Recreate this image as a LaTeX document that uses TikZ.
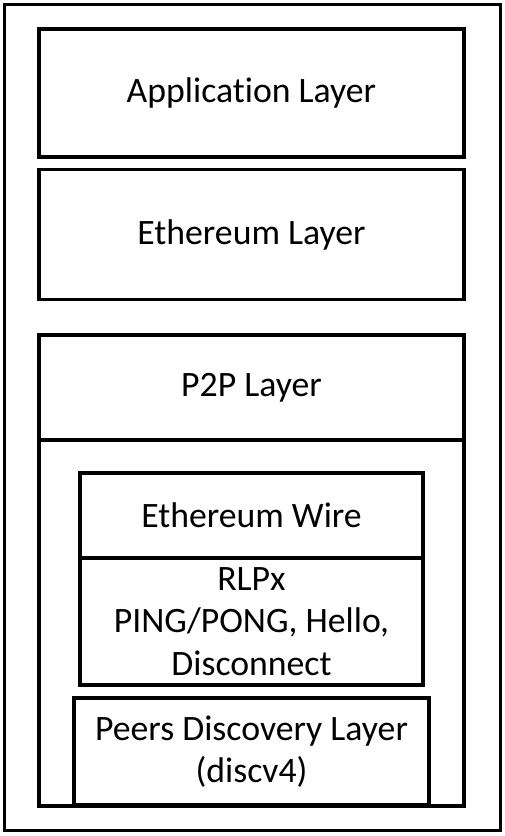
\documentclass[tikz,border=0pt]{standalone}
\usepackage{fontspec}
\setmainfont{Carlito}[Ligatures=CommonOff]
\usetikzlibrary{positioning}
\newcommand{\pxu}{0.03cm}
\tikzset{
  layer/.style={draw, line width=3.2*\pxu, outer sep=0pt, inner sep=0pt,
    align=center, text=black, font=\fontsize{30.5}{36}\selectfont},
}
\begin{document}
\begin{tikzpicture}[x=\pxu, y=-\pxu]
  \useasboundingbox (0,0) rectangle (505,836);
  \draw[line width=3.8*\pxu] (4.5,4.5) rectangle (500.5,830.5);
  % upper layers
  \node[layer, minimum width=425*\pxu, minimum height=128*\pxu] (app) at (251.5,93) {Application Layer};
  \node[layer, minimum width=425*\pxu, minimum height=130*\pxu] (eth) at (251.5,234.5) {Ethereum Layer};
  % p2p stack
  \node[layer, minimum width=425*\pxu, minimum height=105*\pxu] (p2p) at (251.5,387.5) {P2P Layer};
  \node[layer, minimum width=425*\pxu, minimum height=366*\pxu, below=0pt of p2p] (p2pbody) {};
  \node[layer, minimum width=343*\pxu, minimum height=85*\pxu] (wire) at (251.5,515.5) {Ethereum Wire};
  \node[layer, minimum width=343*\pxu, minimum height=127*\pxu, below=0pt of wire] (rlpx) {RLPx\\PING/PONG, Hello,\\Disconnect};
  \node[layer, minimum width=355*\pxu, minimum height=107*\pxu] (peers) at (251.5,751.5) {Peers Discovery Layer\\(discv4)};
\end{tikzpicture}
\end{document}
